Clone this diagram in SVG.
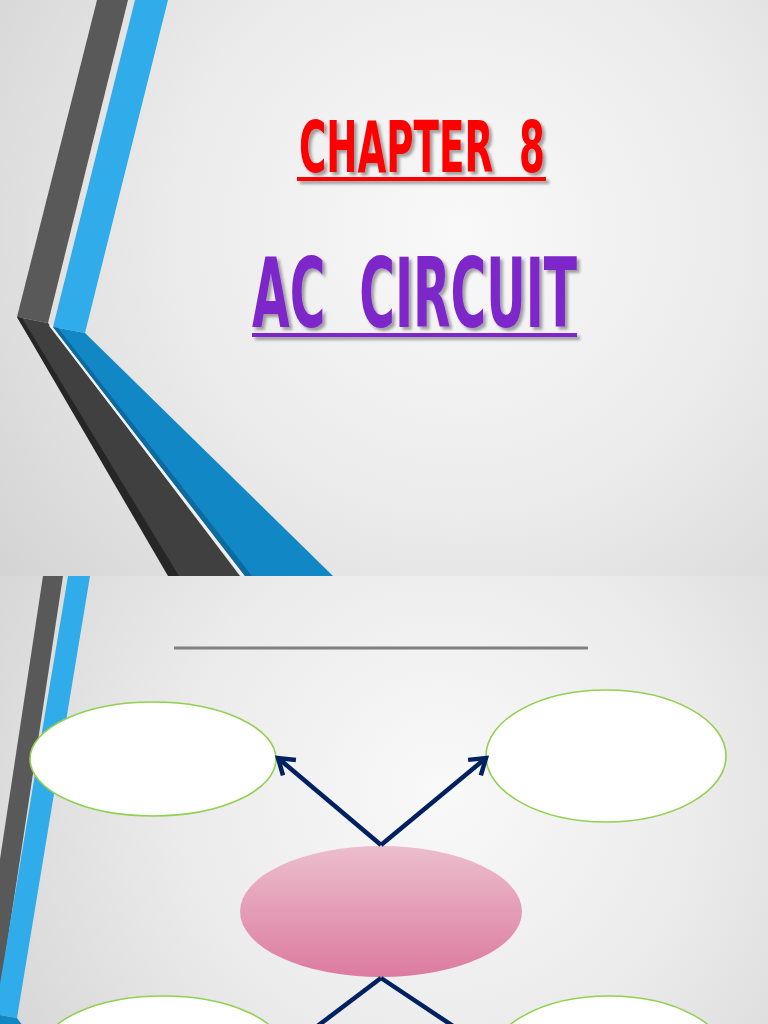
<svg xmlns="http://www.w3.org/2000/svg" width="768" height="1024" viewBox="0 0 768 1024">
  <style>
    .title { font-family: 'DejaVu Sans Condensed', 'DejaVu Sans', sans-serif; font-weight: bold; font-stretch: condensed; }
    .oval { fill: #ffffff; stroke: #92d050; stroke-width: 1.6; }
    .conn { stroke: #002060; stroke-width: 4.5; fill: none; stroke-linecap: butt; }
  </style>
  <defs>
    <radialGradient id="bg1" gradientUnits="userSpaceOnUse" cx="460" cy="230" r="580">
      <stop offset="0" stop-color="#f9f9f9"/>
      <stop offset="0.5" stop-color="#ebebeb"/>
      <stop offset="1" stop-color="#d3d3d3"/>
    </radialGradient>
    <radialGradient id="bg2" gradientUnits="userSpaceOnUse" cx="440" cy="790" r="480">
      <stop offset="0" stop-color="#f9f9f9"/>
      <stop offset="0.55" stop-color="#ebebeb"/>
      <stop offset="1" stop-color="#d8d8d8"/>
    </radialGradient>
    <linearGradient id="pink" x1="0" y1="0" x2="0" y2="1">
      <stop offset="0" stop-color="#ecbecd"/>
      <stop offset="1" stop-color="#dc7b9f"/>
    </linearGradient>
    <filter id="shadow" x="-10%" y="-20%" width="120%" height="150%">
      <feDropShadow dx="3" dy="3" stdDeviation="1.5" flood-color="#000" flood-opacity="0.35"/>
    </filter>
    <marker id="arrow" markerUnits="userSpaceOnUse" markerWidth="30" markerHeight="30" viewBox="-20 -15 30 30" refX="0" refY="0" orient="auto">
      <path d="M-15,-10 L0,0 L-15,10" fill="none" stroke="#002060" stroke-width="4.5" stroke-linejoin="miter"/>
    </marker>
    <clipPath id="slide2"><rect x="0" y="576" width="768" height="448"/></clipPath>
  </defs>

  <!-- Slide 1 -->
  <g id="slide1-background">
    <rect x="0" y="0" width="768" height="576" fill="url(#bg1)"/>
  </g>
  <g id="slide1-stripes">
    <polygon points="97,0 128,0 48,323 17,317" fill="#595959"/>
    <polygon points="135,0 168,0 85,333 53,327" fill="#31acea"/>
    <polygon points="17,317 48,323 240,576 172,576" fill="#404040"/>
    <polygon points="17,317 22,318 179,576 168,576" fill="#262626"/>
    <line x1="50" y1="325" x2="243" y2="576" stroke="#f2f2f2" stroke-width="2.5"/>
    <polygon points="53,327 85,333 333,576 245,576" fill="#1287c5"/>
    <polygon points="53,327 58,328 252,576 245,576" fill="#0c6a9e"/>
  </g>
  <g id="title-chapter" filter="url(#shadow)">
    <g transform="translate(299,172) scale(1,1.4)">
      <text class="title" x="0" y="0" font-size="51" fill="#ff0000" textLength="246" lengthAdjust="spacingAndGlyphs" xml:space="preserve">CHAPTER  8</text>
    </g>
    <rect x="297" y="177" width="249" height="4" fill="#ff0000"/>
  </g>
  <g id="title-ac-circuit" filter="url(#shadow)">
    <g transform="translate(252,327) scale(1,1.6)">
      <text class="title" x="0" y="0" font-size="60" fill="#7d28c9" textLength="325" lengthAdjust="spacingAndGlyphs" xml:space="preserve">AC  CIRCUIT</text>
    </g>
    <rect x="252" y="333" width="325" height="4" fill="#7d28c9"/>
  </g>

  <!-- Slide 2 -->
  <g id="slide2-background">
    <rect x="0" y="576" width="768" height="448" fill="url(#bg2)"/>
  </g>
  <g id="slide2-stripes" clip-path="url(#slide2)">
    <polygon points="43,576 63,576 -5,1024 -25,1024" fill="#595959"/>
    <polygon points="68,576 90,576 17,1018 -5,1014" fill="#31acea"/>
    <polygon points="-5,1014 17,1018 26,1030 -5,1030" fill="#1287c5"/>
  </g>
  <g id="title-line">
    <line x1="174" y1="648" x2="588" y2="648" stroke="#808080" stroke-width="3"/>
  </g>

  <g id="node-top-left">
    <ellipse class="oval" cx="153" cy="759" rx="123" ry="57"/>
  </g>
  <g id="node-top-right">
    <ellipse class="oval" cx="606" cy="756" rx="120" ry="66"/>
  </g>
  <g id="node-center">
    <ellipse cx="381" cy="911.5" rx="141" ry="65.5" fill="url(#pink)"/>
  </g>
  <g id="node-bottom-left" clip-path="url(#slide2)">
    <ellipse class="oval" cx="163" cy="1053" rx="122" ry="57"/>
  </g>
  <g id="node-bottom-right" clip-path="url(#slide2)">
    <ellipse class="oval" cx="609" cy="1062" rx="120" ry="66"/>
  </g>

  <g id="connectors">
    <line class="conn" x1="381" y1="845" x2="278" y2="758" marker-end="url(#arrow)"/>
    <line class="conn" x1="381" y1="845" x2="486" y2="758" marker-end="url(#arrow)"/>
    <line class="conn" x1="381" y1="978" x2="299" y2="1040"/>
    <line class="conn" x1="381" y1="978" x2="474" y2="1040"/>
  </g>
</svg>
